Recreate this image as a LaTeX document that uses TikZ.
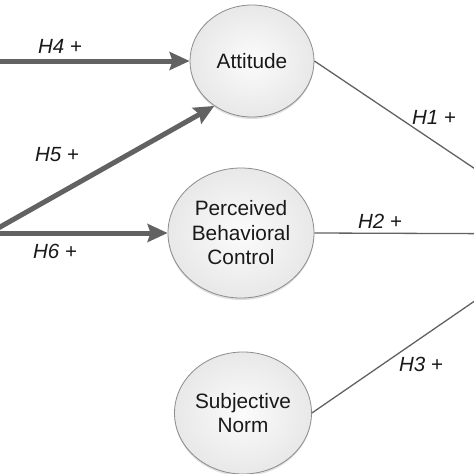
\documentclass[tikz,border=0pt]{standalone}
\usepackage{fontspec}
\setmainfont{Liberation Sans}
\usetikzlibrary{shapes.geometric,arrows.meta,shadows}
\definecolor{linegray}{HTML}{626262}
\definecolor{edgegray}{HTML}{8C8C8C}
\tikzset{
  construct/.style={ellipse, draw=edgegray, line width=0.8pt, inner sep=0pt,
    inner color=gray!3, outer color=gray!18, align=center,
    font=\fontsize{20.8}{24.5}\selectfont, text=black!90,
    drop shadow={shadow xshift=0pt, shadow yshift=-2pt, opacity=0.25, fill=gray}},
  thickarrow/.style={draw=linegray, line width=5pt,
    -{Stealth[length=20pt, width=18pt, inset=3pt]}},
  thinline/.style={draw=linegray, line width=1.3pt},
  hyp/.style={font=\itshape\fontsize{20.5}{22}\selectfont, text=black!90}
}
\begin{document}
\begin{tikzpicture}[x=1pt,y=-1pt]
\useasboundingbox (0,0) rectangle (474,474);
\clip (0,0) rectangle (474,474);
\fill[white] (0,0) rectangle (474,474);
% off-canvas ends
\coordinate (srcA) at (-40,61);
\coordinate (srcB) at (-30,244);
\coordinate (srcC) at (-40,233);
\coordinate (intention) at (572,234);
% constructs
\node[construct, minimum width=124pt, minimum height=112pt] (att) at (252,61) {Attitude};
\node[construct, minimum width=146pt, minimum height=130pt] (pbc) at (241,233) {Perceived\\Behavioral\\Control};
\node[construct, minimum width=137pt, minimum height=122pt] (sn) at (243,413) {Subjective\\Norm};
% connectors
\draw[thickarrow] (srcA) -- (att.west);
\draw[thickarrow] (srcB) -- (att.-130);
\draw[thickarrow] (srcC) -- (pbc.west);
\draw[thinline] (att.east) -- (intention);
\draw[thinline] (pbc.east) -- (intention);
\draw[thinline] (sn.east) -- (intention);
% labels
\node[hyp] (h4) at (60,46) {H4 +};
\node[hyp] (h5) at (57,155) {H5 +};
\node[hyp] (h6) at (55,251) {H6 +};
\node[hyp] (h1) at (434,117) {H1 +};
\node[hyp] (h2) at (380,221) {H2 +};
\node[hyp] (h3) at (421,364) {H3 +};
\end{tikzpicture}
\end{document}
